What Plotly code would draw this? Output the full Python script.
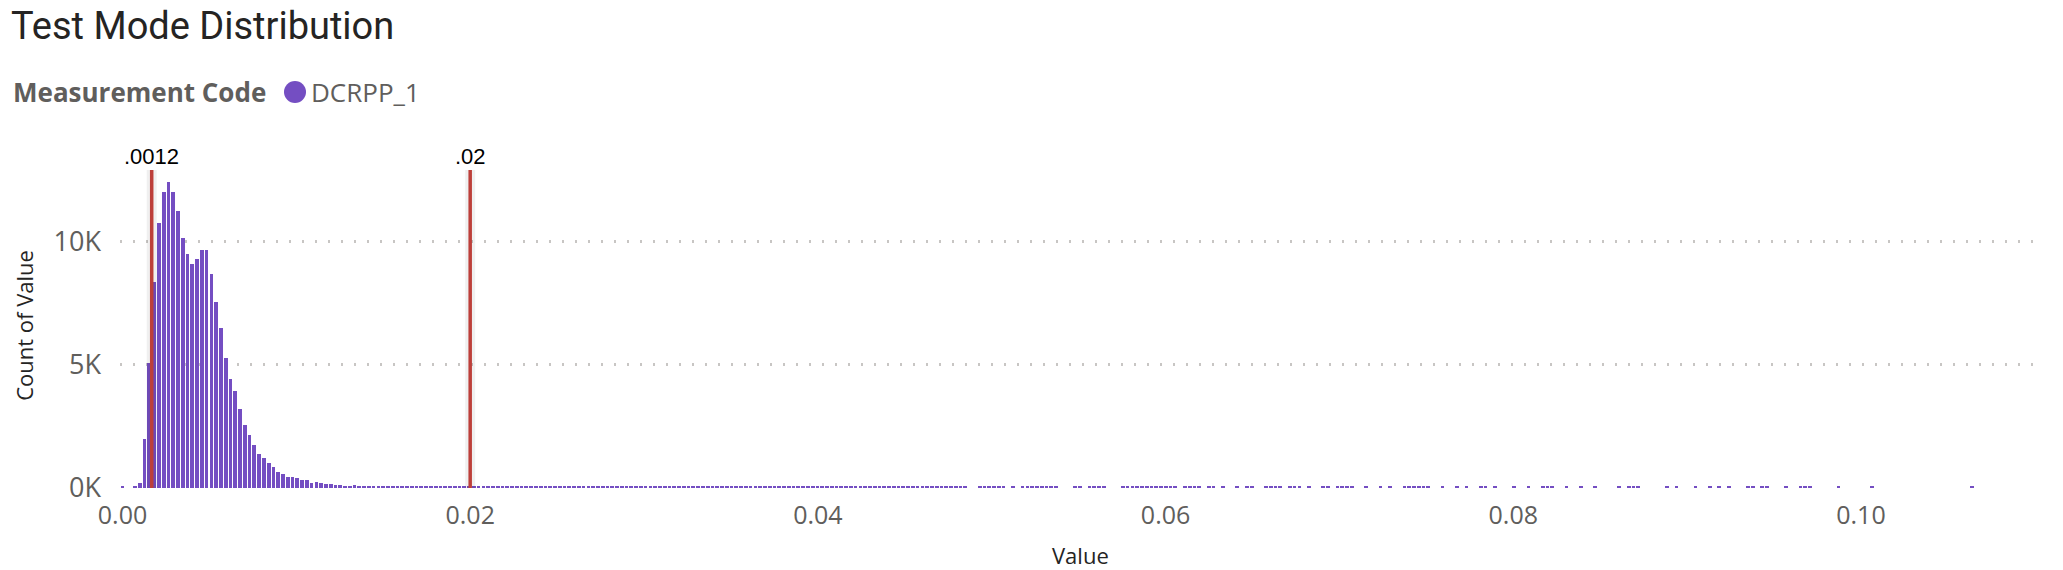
import plotly.graph_objects as go

# ---------------- data ----------------
TITLE = "Test Mode Distribution"
LEGEND_TITLE = "Measurement Code"
SERIES_NAME = "DCRPP_1"
X_TITLE = "Value"
Y_TITLE = "Count of Value"

# bin layout
BIN_START = 0.00072
BIN_WIDTH = 0.0002745

# a tiny bin sitting exactly at 0
ZERO_BIN_X = [0.0]
ZERO_BIN_COUNT = [60]

# main peak, bins 0..50
PEAK_COUNTS = [
    50, 200, 2000, 5080, 8370, 10770, 12000, 12430, 12000, 11250,
    10160, 9490, 9080, 9280, 9660, 9660, 8700, 7560, 6500, 5260,
    4430, 3930, 3210, 2570, 2130, 1750, 1360, 1220, 1020, 870,
    660, 560, 460, 460, 390, 330, 310, 200, 240, 200,
    160, 160, 120, 120, 100, 90, 110, 80, 80, 80,
    80,
]

# long tail, bins 51..385 (0 = empty bin)
TAIL_COUNTS = [
    80, 80, 80, 80, 80, 80, 80, 80, 80, 80,              # 51-60
    70, 70, 70, 70, 70, 70, 70, 70, 70, 70,              # 61-70
    70, 70, 70, 70, 70, 70, 70, 70, 70, 70,              # 71-80
    70, 70, 70, 70, 70, 70, 70, 70, 70, 70,              # 81-90
    60, 60, 60, 60, 60, 60, 60, 60, 60, 60,              # 91-100
    60, 60, 60, 60, 60, 60, 60, 60, 60, 60,              # 101-110
    60, 60, 60, 60, 60, 60, 60, 60, 60, 60,              # 111-120
    60, 60, 60, 60, 60, 60, 60, 60, 60, 60,              # 121-130
    60, 60, 60, 60, 60, 60, 60, 60, 60, 60,              # 131-140
    60, 60, 60, 60, 60, 60, 60, 60, 60, 60,              # 141-150
    60, 60, 60, 60, 60, 60, 60, 60, 60, 60,              # 151-160
    60, 60, 60, 60, 60, 60, 60, 60, 60, 60,              # 161-170
    60, 60, 60, 60, 0, 0, 60, 60, 60, 60,                # 171-180
    60, 60, 0, 60, 0, 60, 60, 60, 60, 60,                # 181-190
    60, 60, 60, 0, 0, 0, 60, 60, 0, 60,                  # 191-200
    60, 60, 60, 0, 0, 0, 60, 60, 60, 60,                 # 201-210
    60, 60, 60, 60, 60, 60, 60, 60, 0, 60,               # 211-220
    60, 60, 60, 0, 60, 60, 0, 60, 0, 0,                  # 221-230
    60, 0, 60, 60, 0, 0, 60, 60, 60, 60,                 # 231-240
    0, 60, 60, 60, 0, 60, 0, 0, 60, 60,                  # 241-250
    0, 60, 60, 60, 60, 0, 0, 60, 0, 0,                   # 251-260
    60, 0, 60, 0, 0, 60, 60, 60, 60, 60,                 # 261-270
    60, 0, 0, 60, 0, 0, 60, 0, 60, 0,                    # 271-280
    0, 60, 60, 0, 60, 0, 0, 0, 60, 0,                    # 281-290
    0, 60, 0, 0, 60, 60, 60, 0, 0, 60,                   # 291-300
    0, 0, 60, 0, 0, 60, 0, 0, 0, 0,                      # 301-310
    60, 0, 60, 60, 60, 0, 0, 0, 0, 0,                    # 311-320
    60, 0, 60, 0, 0, 0, 60, 0, 0, 60,                    # 321-330
    0, 60, 0, 60, 0, 0, 0, 60, 60, 0,                    # 331-340
    60, 60, 0, 0, 0, 60, 0, 0, 60, 60,                   # 341-350
    60, 0, 0, 0, 0, 0, 60, 0, 0, 0,                      # 351-360
    0, 0, 0, 60, 0, 0, 0, 0, 0, 0,                       # 361-370
    0, 0, 0, 0, 0, 0, 0, 0, 0, 0,                        # 371-380
    0, 0, 0, 0, 60,                                      # 381-385
]

# constant lines: positions as they sit on the reference's value axis,
# labels exactly as printed above them
REF_VALUES = [0.00168, 0.02]
REF_LABELS = [".0012", ".02"]

X_TICKS = [0.0, 0.02, 0.04, 0.06, 0.08, 0.10]
X_TICK_TEXT = ["0.00", "0.02", "0.04", "0.06", "0.08", "0.10"]
Y_TICKS = [0, 5000, 10000]
Y_TICK_TEXT = ["0K", "5K", "10K"]

X_RANGE = [-0.000144, 0.11030]
Y_RANGE = [0, 12900]

# ---------------- styling ----------------
BAR_COLOR = "#744EC2"
REF_COLOR = "#BD3F3A"
GRID_COLOR = "#C8C6C4"
TICK_COLOR = "#605E5C"
TEXT_DARK = "#252423"
FONT = "Open Sans, Noto Sans, sans-serif"

W, H = 2063, 570
ML, MR, MT, MB = 120, 23, 170, 82
PW, PH = W - ML - MR, H - MT - MB


def px_to_paper_x(px):
    return (px - ML) / PW


def px_to_paper_y(py):
    return (H - MB - py) / PH


counts = PEAK_COUNTS + TAIL_COUNTS
xs = [BIN_START + i * BIN_WIDTH for i in range(len(counts))]
all_x = ZERO_BIN_X + xs
all_y = ZERO_BIN_COUNT + counts

fig = go.Figure()
fig.add_trace(go.Bar(
    x=all_x, y=all_y, name=SERIES_NAME,
    marker=dict(color=BAR_COLOR, line=dict(width=0)),
    width=BIN_WIDTH * 0.78,
    showlegend=False,
    hovertemplate="%{x}<br>%{y}<extra></extra>",
))

shapes = []
annotations = []

# reference lines with soft shadow
for v, lab in zip(REF_VALUES, REF_LABELS):
    shapes.append(dict(type="line", xref="x", yref="paper", x0=v, x1=v, y0=0, y1=1,
                       line=dict(color="rgba(0,0,0,0.06)", width=10), layer="above"))
    shapes.append(dict(type="line", xref="x", yref="paper", x0=v, x1=v, y0=0, y1=1,
                       line=dict(color=REF_COLOR, width=3.5), layer="above"))
    annotations.append(dict(x=v, xref="x", y=px_to_paper_y(157), yref="paper",
                            text=lab, showarrow=False, xanchor="center", yanchor="middle",
                            font=dict(family="Liberation Sans, Arial, sans-serif", size=22, color="#000000")))

# legend (manual, Power BI style)
annotations.append(dict(x=px_to_paper_x(11), y=px_to_paper_y(92), xref="paper", yref="paper",
                        text="<b>" + LEGEND_TITLE + "</b>", showarrow=False,
                        xanchor="left", yanchor="middle",
                        font=dict(family=FONT, size=26, color=TICK_COLOR)))
cx = px_to_paper_x(295)
cy = px_to_paper_y(92)
shapes.append(dict(type="circle", xref="paper", yref="paper",
                   xsizemode="pixel", ysizemode="pixel", xanchor=cx, yanchor=cy,
                   x0=-11, x1=11, y0=-11, y1=11,
                   fillcolor=BAR_COLOR, line=dict(width=0)))
annotations.append(dict(x=px_to_paper_x(309), y=px_to_paper_y(92), xref="paper", yref="paper",
                        text=SERIES_NAME, showarrow=False, xanchor="left", yanchor="middle",
                        font=dict(family=FONT, size=26, color=TICK_COLOR)))

# axis titles
annotations.append(dict(x=px_to_paper_x(24), y=0.51, xref="paper", yref="paper",
                        text=Y_TITLE, textangle=-90, showarrow=False,
                        xanchor="center", yanchor="middle",
                        font=dict(family=FONT, size=22, color=TEXT_DARK)))
annotations.append(dict(x=0.5, y=px_to_paper_y(555), xref="paper", yref="paper",
                        text=X_TITLE, showarrow=False, xanchor="center", yanchor="middle",
                        font=dict(family=FONT, size=22, color=TEXT_DARK)))

fig.update_layout(
    width=W, height=H,
    margin=dict(l=ML, r=MR, t=MT, b=MB, pad=0),
    paper_bgcolor="white", plot_bgcolor="white",
    bargap=0,
    title=dict(text=TITLE, x=11 / W, xanchor="left", xref="container",
               y=1 - 26 / H, yanchor="middle", yref="container",
               font=dict(family="Roboto, sans-serif", size=38, color=TEXT_DARK)),
    shapes=shapes, annotations=annotations,
    showlegend=False,
)
fig.update_xaxes(range=X_RANGE, tickvals=X_TICKS, ticktext=X_TICK_TEXT,
                 showgrid=False, zeroline=False, showline=False, ticks="",
                 ticklabelstandoff=10,
                 tickfont=dict(family=FONT, size=25, color=TICK_COLOR))
fig.update_yaxes(range=Y_RANGE, tickvals=Y_TICKS, ticktext=Y_TICK_TEXT,
                 showgrid=True, gridcolor=GRID_COLOR, gridwidth=2.5, griddash="2px,11px",
                 zeroline=False, showline=False, ticks="",
                 ticklabelstandoff=18,
                 tickfont=dict(family=FONT, size=27, color=TICK_COLOR))

fig.write_html("out.html",
               config={"displayModeBar": False},
               post_script="document.body.style.margin='0';document.body.style.overflow='hidden';")
